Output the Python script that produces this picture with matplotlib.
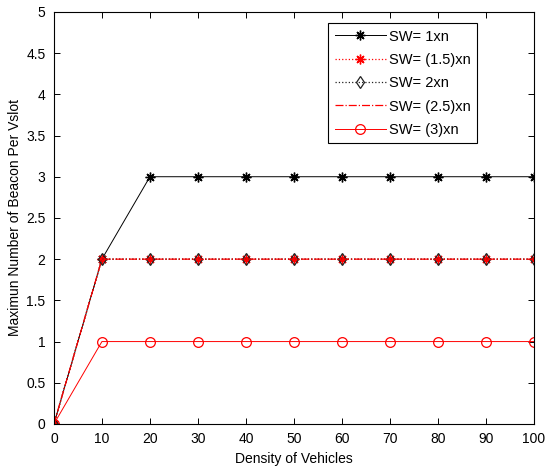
import numpy as np
import matplotlib
matplotlib.use('Agg')
import matplotlib.pyplot as plt

plt.rcParams['font.family'] = ['Liberation Sans', 'DejaVu Sans']

density = [0, 10, 20, 30, 40, 50, 60, 70, 80, 90, 100]
sw_1 = [0, 2, 3, 3, 3, 3, 3, 3, 3, 3, 3]
sw_15 = [0, 2, 2, 2, 2, 2, 2, 2, 2, 2, 2]
sw_2 = [0, 2, 2, 2, 2, 2, 2, 2, 2, 2, 2]
sw_25 = [0, 2, 2, 2, 2, 2, 2, 2, 2, 2, 2]
sw_3 = [0, 1, 1, 1, 1, 1, 1, 1, 1, 1, 1]

star = (8, 2, 0)

fig = plt.figure(figsize=(5.5, 4.71), dpi=100)
ax = fig.add_axes([0.098, 0.0998, 0.873, 0.875])

ax.plot(density, sw_1, '-', color='black', marker=star, ms=7, mew=1.0, lw=0.7, label='SW= 1xn')
ax.plot(density, sw_15, ':', color='red', marker=star, ms=7, mew=1.0, lw=0.9, label='SW= (1.5)xn')
ax.plot(density, sw_2, ':', color='#222222', marker='d', ms=6.5, mfc='none', mew=0.9, lw=0.9, label='SW= 2xn')
ax.plot(density, sw_25, '-.', color='red', lw=0.9, label='SW= (2.5)xn')
ax.plot(density, sw_3, '-', color='red', marker='o', ms=7, mfc='none', mew=0.9, lw=0.7, label='SW= (3)xn')

ax.set_xlim(0, 100)
ax.set_ylim(0, 5)
ax.set_xticks(np.arange(0, 101, 10))
ax.set_yticks(np.arange(0, 5.01, 0.5))
ax.set_yticklabels(['0', '0.5', '1', '1.5', '2', '2.5', '3', '3.5', '4', '4.5', '5'])
ax.tick_params(direction='in', length=4, width=0.7, labelsize=10, top=True, right=True, pad=6)
for s in ax.spines.values():
    s.set_linewidth(0.8)

ax.set_xlabel('Density of Vehicles', fontsize=10, labelpad=4)
ax.set_ylabel('Maximun Number of Beacon Per Vslot', fontsize=10, labelpad=3)

leg = ax.legend(loc='upper left', bbox_to_anchor=(328 / 550, 1 - 23 / 471), bbox_transform=fig.transFigure,
                borderaxespad=0, fontsize=10.5, fancybox=False, framealpha=1, edgecolor='black',
                handlelength=3.5, borderpad=0.45, labelspacing=0.64, handletextpad=0.2)
leg.get_frame().set_linewidth(0.8)

fig.savefig('out.png', dpi=100)
